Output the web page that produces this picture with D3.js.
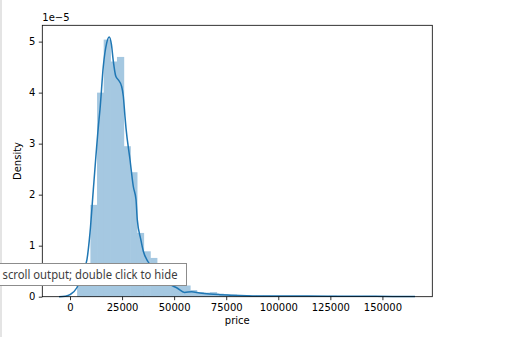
<!DOCTYPE html>
<html>
<head>
<meta charset="utf-8">
<script src="https://cdn.jsdelivr.net/npm/d3@7"></script>
<style>
  body { margin: 0; background: #fff; }
  svg { display: block; }
  .tick text { font-family: "DejaVu Sans", sans-serif; font-size: 10px; fill: #000; }
</style>
</head>
<body>
<svg id="drawing_region"></svg>
<script>
// histogram: first bin edge, bin width (price) and density per bin (x 1e-5)
const binStart = 3419;
const binWidth = 3188;
const binDensity = [
  0.30, 0.62, 1.80, 4.00, 5.04, 4.61, 4.70, 2.95, 2.44, 1.25,
  0.89, 0.76, 0.58, 0.42, 0.32, 0.22, 0.22, 0.13, 0.09, 0.08,
  0.09, 0.06, 0.05, 0.04, 0.03, 0.03, 0.02, 0.02, 0.02, 0.015,
  0.01, 0.01, 0.01, 0.01, 0.01, 0.01, 0.012, 0.015, 0.02, 0.015,
  0.01, 0.01, 0.012, 0.015, 0.015, 0.01, 0.008, 0.005, 0.005, 0.005
];

// kde curve: price, density (x 1e-5)
const kdePrice = [
  -5280, -2400, 0, 3360, 5760, 8160, 9600, 11200, 13920, 14400,
  16000, 17600, 18800, 19900, 20700, 22000, 23200, 24800, 25600, 26400,
  26900, 28800, 30400, 31700, 32300, 34000, 35200, 37400, 40100, 43000,
  48000, 51400, 55000, 58400, 62300, 67100, 71900, 76700, 81500, 87800,
  96000, 110000, 125000, 140000, 155000, 165640
];
const kdeDensity = [
  0.0, 0.01, 0.04, 0.18, 0.43, 0.73, 1.25, 2.10, 3.47, 3.67,
  4.52, 4.97, 5.09, 4.94, 4.65, 4.32, 4.25, 4.12, 3.93, 3.53,
  3.30, 2.69, 2.16, 1.90, 1.51, 1.12, 0.89, 0.69, 0.55, 0.38,
  0.235, 0.17, 0.084, 0.098, 0.073, 0.053, 0.04, 0.03, 0.022, 0.016,
  0.014, 0.012, 0.01, 0.009, 0.006, 0.003
];

const xTicks = [0, 25000, 50000, 75000, 100000, 125000, 150000];
const yTicks = [0, 1, 2, 3, 4, 5];

const width = 507, height = 337;
const margin = {top: 25.3, right: 74.7, bottom: 40.3, left: 42.3};

const svg = d3.select('#drawing_region')
  .attr('width', width)
  .attr('height', height);

// notebook gutter on the left
svg.append('rect')
  .attr('x', 0).attr('y', 0)
  .attr('width', 2).attr('height', height)
  .attr('fill', '#e4e4e4');

const innerW = width - margin.left - margin.right;
const innerH = height - margin.top - margin.bottom;

const chart = svg.append('g')
  .attr('transform', `translate(${margin.left}, ${margin.top})`);

const xscale = d3.scaleLinear()
  .domain([-13300, 173950])
  .range([0, innerW]);

const yscale = d3.scaleLinear()
  .domain([0, 5.32])
  .range([innerH, 0]);

// bars
const bins = binDensity.map((d, i) => ({
  x0: binStart + i * binWidth,
  x1: binStart + (i + 1) * binWidth,
  y: d
}));

chart.selectAll('rect.bar')
  .data(bins)
  .enter()
  .append('rect')
  .attr('class', 'bar')
  .attr('x', d => xscale(d.x0))
  .attr('width', d => xscale(d.x1) - xscale(d.x0) + 0.6)
  .attr('y', d => yscale(d.y))
  .attr('height', d => yscale(0) - yscale(d.y))
  .attr('fill', '#a5c8e1');

// kde line
const kde = kdePrice.map((p, i) => [p, kdeDensity[i]]);
const line = d3.line()
  .x(d => xscale(d[0]))
  .y(d => yscale(d[1]))
  .curve(d3.curveMonotoneX);

chart.append('path')
  .datum(kde)
  .attr('d', line)
  .attr('fill', 'none')
  .attr('stroke', '#1f77b4')
  .attr('stroke-width', 1.5)
  .attr('stroke-linejoin', 'round');

// axes
const xaxis = d3.axisBottom(xscale)
  .tickValues(xTicks)
  .tickFormat(d3.format('d'))
  .tickSize(3.5)
  .tickPadding(3.5);

const yaxis = d3.axisLeft(yscale)
  .tickValues(yTicks)
  .tickFormat(d3.format('d'))
  .tickSize(3.5)
  .tickPadding(3.5);

const xg = chart.append('g')
  .attr('transform', `translate(0, ${innerH})`)
  .call(xaxis);
const yg = chart.append('g').call(yaxis);

[xg, yg].forEach(g => {
  g.select('.domain').remove();
  g.selectAll('.tick line').attr('stroke', '#000').attr('stroke-width', 0.8);
});

// frame
chart.append('rect')
  .attr('width', innerW)
  .attr('height', innerH)
  .attr('fill', 'none')
  .attr('stroke', '#000')
  .attr('stroke-width', 0.8);

// labels
svg.append('text')
  .attr('x', margin.left + innerW / 2)
  .attr('y', 324)
  .attr('text-anchor', 'middle')
  .style('font-family', 'DejaVu Sans, sans-serif')
  .style('font-size', '10px')
  .text('price');

svg.append('text')
  .attr('transform', `translate(21, ${margin.top + innerH / 2}) rotate(-90)`)
  .attr('text-anchor', 'middle')
  .style('font-family', 'DejaVu Sans, sans-serif')
  .style('font-size', '10px')
  .text('Density');

svg.append('text')
  .attr('x', margin.left)
  .attr('y', 21)
  .style('font-family', 'DejaVu Sans, sans-serif')
  .style('font-size', '10px')
  .text('1e\u22125');

// notebook tooltip overlay
const tip = svg.append('g');
tip.append('rect')
  .attr('x', -1).attr('y', 263.5)
  .attr('width', 187.5).attr('height', 22)
  .attr('fill', '#fff')
  .attr('stroke', '#8c8c8c')
  .attr('stroke-width', 1);
tip.append('text')
  .attr('x', 2.5)
  .attr('y', 279)
  .attr('textLength', 175)
  .attr('lengthAdjust', 'spacingAndGlyphs')
  .style('font-family', 'Noto Sans, sans-serif')
  .style('font-size', '12.5px')
  .attr('fill', '#3d3d3d')
  .text('scroll output; double click to hide');
</script>
</body>
</html>
